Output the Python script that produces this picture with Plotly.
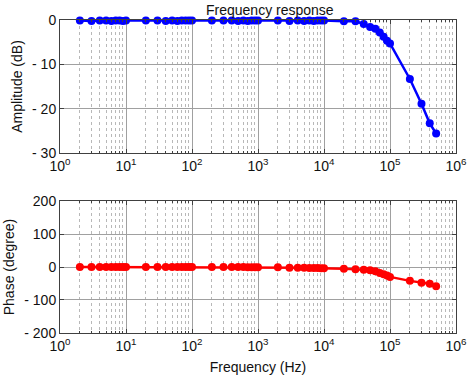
import plotly.graph_objects as go

freq = [2, 3, 4, 5, 6, 7, 8, 9, 10,
        20, 30, 40, 50, 60, 70, 80, 90, 100,
        200, 300, 400, 500, 600, 700, 800, 900, 1000,
        2000, 3000, 4000, 5000, 6000, 7000, 8000, 9000, 10000,
        20000, 30000, 40000, 50000, 60000, 70000, 80000, 90000, 100000,
        200000, 300000, 400000, 500000]
amp_db = [-0.1, -0.2, -0.1, -0.1, -0.2, -0.1, -0.1, -0.2, -0.1,
          -0.1, -0.1, -0.2, -0.1, -0.2, -0.1, -0.1, -0.1, -0.1,
          -0.1, -0.1, -0.1, -0.2, -0.1, -0.2, -0.1, -0.1, -0.1,
          -0.1, -0.2, -0.1, -0.2, -0.1, -0.2, -0.1, -0.1, -0.1,
          -0.3, -0.3, -0.9, -1.6, -2.0, -2.8, -3.8, -4.7, -5.3,
          -13.3, -18.9, -23.3, -25.6]
phase_deg = [0, 0, 0, 0, 0, 0, 0, 0, 0,
             0, 0, 0, 0, 0, 0, 0, 0, 0,
             0, 0, 0, 0, 0, -1, -1, -1, -1,
             -1, -2, -2, -2, -3, -3, -3, -4, -4,
             -5, -7, -8, -10, -13, -18, -22, -26, -30,
             -42, -48, -51, -58]

x_tick_vals = [1, 10, 100, 1000, 10000, 100000, 1000000]
x_tick_text = ["10<sup>%d</sup>" % i for i in range(7)]
amp_ticks = [0, -10, -20, -30]
amp_tick_text = ["0", "- 10", "- 20", "- 30"]
phase_ticks = [200, 100, 0, -100, -200]
phase_tick_text = ["200", "100", "0", "- 100", "- 200"]

minor_vals = [m * 10 ** d for d in range(6) for m in range(2, 10)]

FONT = "Liberation Sans, Arial, sans-serif"
fig = go.Figure()
fig.add_trace(go.Scatter(x=freq, y=amp_db, mode="lines+markers",
                         line=dict(color="#0000ff", width=2.5),
                         marker=dict(color="#0000ff", size=8),
                         cliponaxis=False, xaxis="x", yaxis="y",
                         showlegend=False))
fig.add_trace(go.Scatter(x=freq, y=phase_deg, mode="lines+markers",
                         line=dict(color="#ff0000", width=2.5),
                         marker=dict(color="#ff0000", size=8),
                         cliponaxis=False, xaxis="x2", yaxis="y2",
                         showlegend=False))

xcommon = dict(type="log", range=[0, 6], tickmode="array",
               tickvals=x_tick_vals, ticktext=x_tick_text,
               showgrid=True, gridcolor="#a0a0a0", gridwidth=1,
               showline=True, linecolor="#404040", linewidth=1, mirror="ticks",
               ticks="inside", ticklen=4, tickcolor="#404040",
               minor=dict(tickmode="array", tickvals=minor_vals, showgrid=True,
                          gridcolor="#b8b8b8", griddash="dot", gridwidth=1,
                          ticks="inside", ticklen=2, tickcolor="#404040"),
               tickfont=dict(size=14, color="#111"), zeroline=False,
               automargin=False)
ycommon = dict(showgrid=True, gridcolor="#a0a0a0", gridwidth=1,
               showline=True, linecolor="#404040", linewidth=1, mirror="ticks",
               ticks="inside", ticklen=4, tickcolor="#404040",
               tickfont=dict(size=14, color="#111"), zeroline=False,
               tickmode="array", automargin=False)

fig.update_layout(
    width=474, height=377,
    margin=dict(l=60, r=18, t=20, b=44, autoexpand=False),
    paper_bgcolor="white", plot_bgcolor="white",
    font=dict(family=FONT, size=14, color="#111"),
    xaxis=dict(**xcommon, domain=[0, 1], anchor="y"),
    yaxis=dict(**ycommon, domain=[0.575, 1], range=[-30, 0], anchor="x",
               tickvals=amp_ticks, ticktext=amp_tick_text,
               title=dict(text="Amplitude (dB)", standoff=6, font=dict(size=14))),
    xaxis2=dict(**xcommon, domain=[0, 1], anchor="y2",
                title=dict(text="Frequency (Hz)", standoff=9, font=dict(size=14))),
    yaxis2=dict(**ycommon, domain=[0, 0.4217], range=[-200, 200], anchor="x2",
                tickvals=phase_ticks, ticktext=phase_tick_text,
                title=dict(text="Phase (degree)", standoff=6, font=dict(size=14))),
    annotations=[dict(text="Frequency response",
                      x=(270 - 60) / (474 - 78), y=1 + (20 - 10) / 313,
                      xref="paper", yref="paper", xanchor="center", yanchor="middle",
                      showarrow=False, font=dict(size=14))],
)

fig.write_html("out.html", config={"displayModeBar": False},
               post_script="document.body.style.margin='0';document.body.style.overflow='hidden';")
